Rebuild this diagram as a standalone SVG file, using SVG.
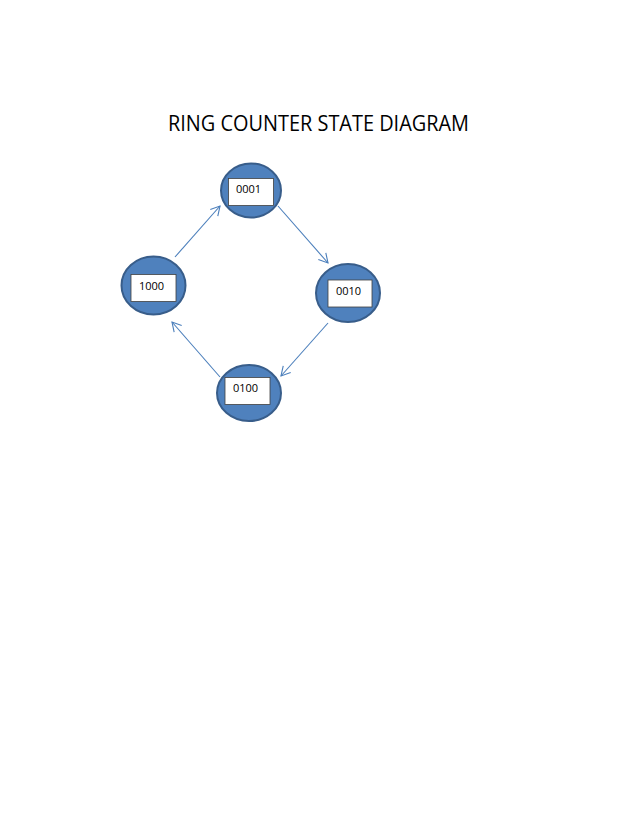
<svg xmlns="http://www.w3.org/2000/svg" width="638" height="826" viewBox="0 0 638 826">
<defs>
<marker id="ah" markerWidth="12" markerHeight="12" refX="10" refY="6" orient="auto" markerUnits="userSpaceOnUse">
<path d="M1,1 L10,6 L1,11" fill="none" stroke="#4A7EBB" stroke-width="1.1"/>
</marker>
<style>
.st{fill:#4F81BD;stroke:#385D8A;stroke-width:2}
.bx{fill:#FFFFFF;stroke:#404040;stroke-width:0.8}
.lb{font-family:"Open Sans","Liberation Sans",sans-serif;font-size:11px;fill:#000}
.cn{stroke:#4A7EBB;stroke-width:1.1;fill:none;marker-end:url(#ah)}
</style>
</defs>
<rect width="638" height="826" fill="#FFFFFF"/>
<text x="168" y="131" font-family="'Open Sans','Liberation Sans',sans-serif" font-size="22" textLength="301" lengthAdjust="spacingAndGlyphs" fill="#000">RING COUNTER STATE DIAGRAM</text>
<g id="connectors">
<line class="cn" x1="175" y1="257" x2="220" y2="206"/>
<line class="cn" x1="278" y1="206" x2="328" y2="263"/>
<line class="cn" x1="328" y1="323" x2="281" y2="376"/>
<line class="cn" x1="220" y1="377" x2="172" y2="322"/>
</g>
<g id="s0001">
<ellipse class="st" cx="251" cy="190.5" rx="30" ry="27"/>
<rect class="bx" x="228.5" y="178.5" width="45" height="27"/>
<text class="lb" x="236" y="193">0001</text>
</g>
<g id="s1000">
<ellipse class="st" cx="153.5" cy="285.5" rx="32" ry="29"/>
<rect class="bx" x="131" y="274.5" width="45" height="27"/>
<text class="lb" x="139" y="289.5">1000</text>
</g>
<g id="s0010">
<ellipse class="st" cx="348" cy="293" rx="32" ry="29"/>
<rect class="bx" x="328" y="280" width="44" height="27"/>
<text class="lb" x="336" y="295">0010</text>
</g>
<g id="s0100">
<ellipse class="st" cx="249" cy="393" rx="32" ry="28"/>
<rect class="bx" x="225" y="377.5" width="45" height="27"/>
<text class="lb" x="233" y="392">0100</text>
</g>
</svg>
